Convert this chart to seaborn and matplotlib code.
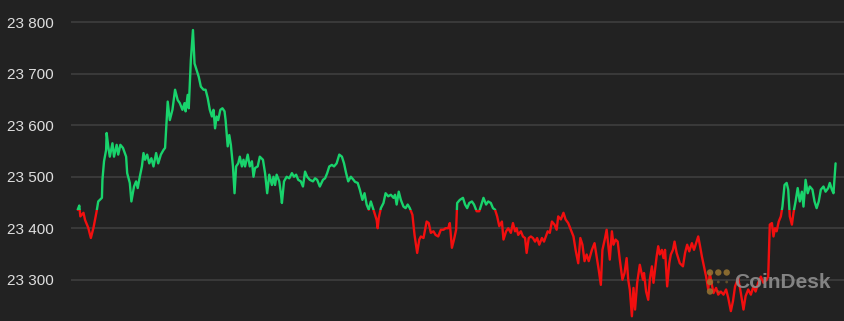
import matplotlib
matplotlib.use("Agg")
import matplotlib.pyplot as plt
import seaborn as sns
import pandas as pd
from matplotlib.patches import Rectangle, Ellipse
from matplotlib.ticker import FuncFormatter

# ---- data (minutes since open, BTC price) ----
minutes = [0, 3, 5, 11, 14, 20, 25, 30, 36, 39, 46, 47, 50, 54, 55, 58, 61, 66, 69, 74,
           77, 81, 86, 92, 94, 99, 102, 107, 111, 114, 118, 122, 125, 128, 132, 136, 140, 144, 149, 153,
           158, 163,
           166, 169, 171, 175, 180, 185, 190, 194, 199, 203, 205, 209, 211, 215, 219, 222, 226, 230, 234, 239,
           243, 247, 251, 255, 258, 261, 264, 267, 271, 275, 279, 281, 285, 288, 291, 295, 298, 301, 305, 308,
           312, 315, 318, 323, 327, 331, 334, 337, 342,
           346, 352, 356, 360, 364, 369, 372, 375, 378, 383, 386, 388, 392, 397, 402, 407, 411, 415, 419, 424,
           428, 432, 436, 441, 447, 451, 455, 460, 466, 470, 474, 478, 483, 487, 492, 497, 502, 506, 510, 514,
           519, 524,
           527, 532, 536, 541, 545, 549, 553, 557, 562, 565, 568, 570, 572, 576, 581, 585, 590, 595, 600, 603,
           606, 610, 614, 619, 623, 627, 631, 636, 640, 645, 649, 652, 657, 660, 663, 667, 671, 676, 680, 685,
           690, 695, 699, 704,
           707, 711, 715, 719, 721, 726, 732, 736, 740, 744, 749, 753, 758, 763, 768, 771, 776, 780, 785, 789,
           793, 797, 801, 806, 809, 814, 818, 823, 827, 831, 834, 837, 842, 846, 850, 853, 857, 861, 865, 869,
           873, 877, 882, 886,
           893, 897, 901, 906, 910, 913, 918, 923, 927, 932, 937, 942, 946, 951, 955, 959, 963, 967, 971, 977,
           982, 986, 990, 994, 997, 1002, 1005, 1008, 1011, 1015, 1018, 1022, 1026, 1030, 1035, 1039, 1043, 1046,
           1049, 1053, 1056, 1059, 1063,
           1068, 1074, 1076, 1080, 1084, 1087, 1091, 1094, 1097, 1100, 1103, 1106, 1110, 1113, 1116, 1120, 1124,
           1127, 1131, 1134, 1138, 1141, 1144, 1150, 1154, 1158, 1162, 1167, 1171, 1175, 1179, 1182, 1186, 1190,
           1194, 1198, 1201, 1205, 1208, 1213, 1217, 1222, 1227, 1232, 1236, 1241, 1245,
           1249, 1255, 1260, 1265, 1269, 1274, 1279, 1284, 1288, 1293, 1298, 1303, 1309, 1312, 1315, 1319, 1322,
           1325, 1328, 1332, 1336, 1339, 1343, 1347, 1350, 1353, 1357, 1360, 1364, 1368, 1372, 1376, 1379, 1383,
           1387, 1391, 1396, 1400, 1404, 1408, 1412, 1417, 1421, 1426, 1429, 1433, 1436, 1440]

prices = [23436, 23444, 23423, 23430, 23416, 23401, 23381, 23401, 23433, 23452,
          23459, 23494, 23530, 23552, 23585, 23559, 23539, 23565, 23539, 23562,
          23543, 23562, 23556, 23539, 23507, 23488, 23452, 23481, 23491, 23478,
          23500, 23520, 23546, 23533, 23543, 23526, 23536, 23520, 23546, 23526,
          23543, 23552,
          23556, 23610, 23646, 23610, 23630, 23669, 23649, 23643, 23630, 23643,
          23627, 23659, 23633, 23727, 23785, 23720, 23707, 23694, 23675, 23669,
          23669, 23653, 23630, 23617, 23630, 23594, 23617, 23610, 23630, 23633,
          23627, 23610, 23559, 23581, 23562, 23520, 23468, 23520, 23526, 23539,
          23520, 23533, 23520, 23543, 23520, 23530, 23500, 23517, 23520,
          23539, 23533, 23507, 23468, 23504, 23484, 23500, 23484, 23504, 23491,
          23468, 23449, 23491, 23500, 23497, 23507, 23500, 23504, 23494, 23491,
          23481, 23510, 23500, 23494, 23491, 23497, 23494, 23481, 23494, 23497,
          23507, 23520, 23523, 23520, 23526, 23543, 23539, 23526, 23507, 23491,
          23500, 23494,
          23490, 23488, 23475, 23455, 23468, 23446, 23436, 23452, 23436, 23426,
          23416, 23400, 23420, 23439, 23449, 23468, 23462, 23465, 23459, 23465,
          23446, 23471, 23455, 23442, 23439, 23446, 23439, 23426, 23387, 23352,
          23378, 23384, 23381, 23397, 23413, 23410, 23391, 23394, 23387, 23384,
          23397, 23397, 23400, 23400,
          23410, 23362, 23378, 23397, 23449, 23455, 23459, 23446, 23439, 23449,
          23452, 23446, 23433, 23433, 23449, 23459, 23446, 23452, 23449, 23439,
          23436, 23423, 23404, 23413, 23378, 23394, 23400, 23391, 23410, 23394,
          23400, 23387, 23394, 23384, 23381, 23352, 23381, 23384, 23381, 23374,
          23381, 23368, 23381, 23374,
          23394, 23391, 23413, 23407, 23397, 23423, 23417, 23430, 23417, 23410,
          23397, 23384, 23358, 23332, 23381, 23368, 23336, 23349, 23336, 23358,
          23371, 23345, 23319, 23290, 23358, 23381, 23397, 23368, 23339, 23394,
          23368, 23378, 23374, 23339, 23300, 23313, 23342, 23300, 23281, 23229,
          23284, 23242, 23294,
          23329, 23300, 23313, 23277, 23261, 23300, 23326, 23294, 23319, 23345,
          23365, 23349, 23358, 23342, 23358, 23287, 23332, 23349, 23358, 23374,
          23352, 23342, 23332, 23326, 23352, 23368, 23355, 23371, 23358, 23371,
          23384, 23368, 23345, 23326, 23306, 23281, 23313, 23290, 23274, 23284,
          23271, 23277, 23271, 23281, 23265, 23239, 23258,
          23287, 23303, 23274, 23242, 23268, 23281, 23271, 23287, 23277, 23294,
          23306, 23294, 23300, 23306, 23407, 23410, 23384, 23400, 23394, 23413,
          23423, 23442, 23484, 23488, 23475, 23423, 23407, 23430, 23452, 23478,
          23452, 23471, 23442, 23494, 23468, 23481, 23475, 23452, 23439, 23452,
          23475, 23481, 23471, 23478, 23488, 23475, 23468, 23526]

y_ticks = [23300, 23400, 23500, 23600, 23700, 23800]

# ---- styling ----
BG = "#222222"
GREEN = "#19d36c"
RED = "#f20f0f"

sns.set_theme(style="dark")
plt.rcParams["font.family"] = ["Liberation Sans", "DejaVu Sans"]

W, H = 845, 321
fig = plt.figure(figsize=(W / 100, H / 100), dpi=100, facecolor=BG)
ax = fig.add_axes([70.7 / W, 0, (W - 70.7) / W, 1])
ax.set_facecolor(BG)

df = pd.DataFrame({"minute": minutes, "price": prices})
baseline = prices[0]

sns.lineplot(data=df, x="minute", y="price", ax=ax, color=GREEN, lw=1.7,
             estimator=None, sort=False)
sns.lineplot(data=df, x="minute", y="price", ax=ax, color=RED, lw=1.7,
             estimator=None, sort=False)
green_line, red_line = ax.lines[0], ax.lines[1]
green_line.set_clip_path(Rectangle((-1e4, baseline), 1e5, 1e4, transform=ax.transData))
red_line.set_clip_path(Rectangle((-1e4, baseline - 1e4), 1e5, 1e4, transform=ax.transData))
for ln in (green_line, red_line):
    ln.set_solid_joinstyle("round")
    ln.set_solid_capstyle("round")

ax.set_xlim(-13.3, 1457.9)
ax.set_ylim(23219.8, 23843.3)
ax.set_yticks(y_ticks)
ax.yaxis.set_major_formatter(FuncFormatter(lambda v, p: f"{int(v):,}".replace(",", " ")))
ax.set_xticks([])
ax.set_xlabel("")
ax.set_ylabel("")
ax.tick_params(axis="y", length=0, pad=12, labelsize=11, labelcolor="#dedede")
ax.yaxis.grid(True, color="#3c3c3c", lw=1.3)
ax.xaxis.grid(False)
ax.set_axisbelow(True)
for s in ax.spines.values():
    s.set_visible(False)

# ---- CoinDesk watermark ----
gold = "#9a7632"
for (px, py, r, a) in [(710, 272.5, 3.2, 0.85), (718.3, 272.5, 3.2, 0.85), (726.7, 272.5, 3.2, 0.85),
                       (710, 282, 3.2, 0.85), (710, 291.5, 3.2, 0.85),
                       (718.3, 282, 1.4, 0.5), (726.7, 282, 1.4, 0.5), (718.3, 291.5, 1.4, 0.5)]:
    fig.add_artist(Ellipse((px / W, 1 - py / H), 2 * r / W, 2 * r / H,
                           transform=fig.transFigure, color=gold, alpha=a, lw=0))
fig.text(734 / W, 1 - 282 / H, "CoinDesk", fontsize=15, fontweight="bold",
         color="#8e8e8e", alpha=0.9, ha="left", va="center")

fig.savefig("out.png", dpi=100, facecolor=BG)
